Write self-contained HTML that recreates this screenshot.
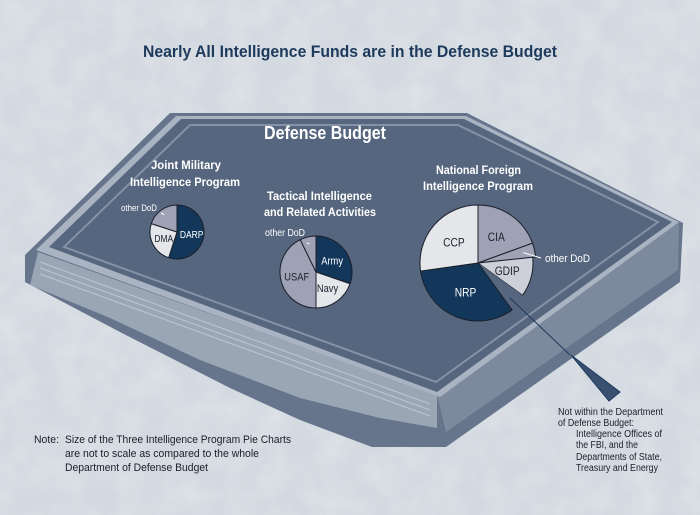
<!DOCTYPE html>
<html><head><meta charset="utf-8"><style>
html,body{margin:0;padding:0;background:#c9d0d8;}
svg{display:block;}
.t{font-family:"Liberation Sans",sans-serif;font-weight:bold;}
.n{font-family:"Liberation Sans",sans-serif;}
</style></head><body>
<svg id="chart" width="700" height="515" viewBox="0 0 700 515" xmlns="http://www.w3.org/2000/svg">
<defs>
<filter id="tex" x="0" y="0" width="100%" height="100%"><feTurbulence type="fractalNoise" baseFrequency="0.035" numOctaves="3" seed="4"/><feColorMatrix type="matrix" values="0 0 0 0 0.78  0 0 0 0 0.81  0 0 0 0 0.85  0 0 0 -1.1 0.75"/></filter>
</defs>
<rect x="0" y="0" width="700" height="515" fill="#d3d9e0"/>
<rect x="0" y="0" width="700" height="515" filter="url(#tex)" opacity="0.9"/>
<text x="143" y="57" textLength="414" lengthAdjust="spacingAndGlyphs" class="t" font-size="17" fill="#1d3a5c">Nearly All Intelligence Funds are in the Defense Budget</text>

<g>
<polygon points="170,113 467,113 683,223 680,282 446,447 372,447 300,420 230,388 120,332 25,282 25,255" fill="#66758c"/>
<polygon points="38,252 437,395 437,428 380,418 300,398 200,360 110,318 30,285" fill="#9ba6b5"/>
<g stroke="#d9dee5" stroke-width="1" opacity="0.55">
<line x1="40" y1="262" x2="430" y2="404"/><line x1="40" y1="268" x2="430" y2="410"/><line x1="40" y1="274" x2="430" y2="416"/>
</g>
<polygon points="437,395 679,222 678,270 446,432" fill="#7d8a9e"/>
<polygon points="176,116 466,116 679,222 440,397 36,250" fill="#a9b3c1"/>
<polygon points="181,119 464,119 672,222 437,392 49,247" fill="#56667e"/>
<polygon points="190,125 458,125 658,222 436,382 64,247" fill="none" stroke="#8592a6" stroke-width="2"/>
</g>
<text x="264" y="139" textLength="122" lengthAdjust="spacingAndGlyphs" class="t" font-size="18" fill="#ffffff">Defense Budget</text>

<g class="t" font-size="12" fill="#ffffff">
<text x="151" y="169" textLength="70" lengthAdjust="spacingAndGlyphs">Joint Military</text>
<text x="130" y="186" textLength="110" lengthAdjust="spacingAndGlyphs">Intelligence Program</text>
<text x="267" y="200" textLength="105" lengthAdjust="spacingAndGlyphs">Tactical Intelligence</text>
<text x="264" y="216" textLength="112" lengthAdjust="spacingAndGlyphs">and Related Activities</text>
<text x="436" y="174" textLength="85" lengthAdjust="spacingAndGlyphs">National Foreign</text>
<text x="423" y="190" textLength="110" lengthAdjust="spacingAndGlyphs">Intelligence Program</text>
</g>

<g id="pies"></g>

<g>
<line x1="510" y1="298" x2="570" y2="355" stroke="#1d3a5c" stroke-width="1"/>
<polygon points="571,355 620,392 609,401" fill="#3a5070" stroke="#1d3a5c" stroke-width="1"/>
</g>
<g class="n" font-size="10" fill="#1a1f2a">
<text x="558" y="415" textLength="105" lengthAdjust="spacingAndGlyphs">Not within the Department</text>
<text x="558" y="426" textLength="76" lengthAdjust="spacingAndGlyphs">of Defense Budget:</text>
<text x="576" y="437" textLength="86" lengthAdjust="spacingAndGlyphs">Intelligence Offices of</text>
<text x="576" y="448" textLength="62" lengthAdjust="spacingAndGlyphs">the FBI, and the</text>
<text x="576" y="460" textLength="86" lengthAdjust="spacingAndGlyphs">Departments of State,</text>
<text x="576" y="471" textLength="82" lengthAdjust="spacingAndGlyphs">Treasury and Energy</text>
</g>
<g class="n" font-size="11" fill="#1a1f2a">
<text x="34" y="443" textLength="25" lengthAdjust="spacingAndGlyphs">Note:</text>
<text x="65" y="443" textLength="226" lengthAdjust="spacingAndGlyphs">Size of the Three Intelligence Program Pie Charts</text>
<text x="65" y="457" textLength="194" lengthAdjust="spacingAndGlyphs">are not to scale as compared to the whole</text>
<text x="65" y="471" textLength="143" lengthAdjust="spacingAndGlyphs">Department of Defense Budget</text>
</g>
</svg>
<script>
// Pie data (degrees of 360 per slice, clockwise from top)
const jmipLabels = ["DARP","DMA","other DoD"];
const jmipValues = [198, 90, 72];
const tiaraLabels = ["Army","Navy","USAF","other DoD"];
const tiaraValues = [109, 71, 154, 26];
const nfipLabels = ["CIA","other DoD","GDIP","Not in DoD","NRP","CCP"];
const nfipValues = [70, 14, 42, 18, 118, 98];

const colors = {"DARP":"#12375a","DMA":"#e4e6ea","other DoD":"#9fa2b4","Army":"#12375a","Navy":"#e4e6ea","USAF":"#9fa2b4","CIA":"#9fa2b4","GDIP":"#cdd0d8","Not in DoD":"#56667e","NRP":"#12375a","CCP":"#e4e6ea"};
const textCol = {"DARP":"#fff","Army":"#fff","NRP":"#fff"};
const NS="http://www.w3.org/2000/svg";
const root=document.getElementById('pies');

function pt(cx,cy,r,a){const t=(a-90)*Math.PI/180;return [cx+r*Math.cos(t),cy+r*Math.sin(t)];}
function drawPie(name,labels,values,cx,cy,r,fs,opts){
  const total=values.reduce((a,b)=>a+b,0);
  let a0=0;
  const g=document.createElementNS(NS,'g');
  
  
  root.appendChild(g);
  labels.forEach((lab,i)=>{
    const span=values[i]/total*360, a1=a0+span;
    const rr=(opts.radii&&opts.radii[lab])||r;
    const p0=pt(cx,cy,rr,a0), p1=pt(cx,cy,rr,a1);
    const path=document.createElementNS(NS,'path');
    path.setAttribute('d',`M${cx},${cy} L${p0[0]},${p0[1]} A${rr},${rr} 0 ${span>180?1:0} 1 ${p1[0]},${p1[1]} Z`);
    path.setAttribute('fill',colors[lab]);
    path.setAttribute('stroke',lab==="Not in DoD"?"none":"#1a1f2a");
    path.setAttribute('stroke-width','1');
    
    
    g.appendChild(path);
    const mid=(a0+a1)/2;
    if(!(opts.skip||[]).includes(lab)){
      const lp=pt(cx,cy,rr*0.55,mid);
      const t=document.createElementNS(NS,'text');
      t.setAttribute('x',lp[0]);t.setAttribute('y',lp[1]+fs*0.35);
      t.setAttribute('text-anchor','middle');t.setAttribute('class','n');
      t.setAttribute('font-size',fs);t.setAttribute('fill',textCol[lab]||'#1a1f2a');
      t.setAttribute('transform',`translate(${lp[0]},0) scale(0.85,1) translate(${-lp[0]},0)`);
      
      
      t.textContent=lab;g.appendChild(t);
    }
    if(opts.ext&&opts.ext[lab]){
      const e=opts.ext[lab];const ip=pt(cx,cy,rr*0.8,mid);
      const ln=document.createElementNS(NS,'line');
      ln.setAttribute('x1',ip[0]);ln.setAttribute('y1',ip[1]);ln.setAttribute('x2',e[0]);ln.setAttribute('y2',e[1]);
      ln.setAttribute('stroke','#fff');ln.setAttribute('stroke-width','1');g.appendChild(ln);
      const t=document.createElementNS(NS,'text');
      t.setAttribute('x',e[2]);t.setAttribute('y',e[3]);t.setAttribute('text-anchor',e[4]);
      t.setAttribute('class','n');t.setAttribute('font-size',e[5]);t.setAttribute('fill','#fff');
      t.setAttribute('textLength',e[6]);t.setAttribute('lengthAdjust','spacingAndGlyphs');
      
      
      t.textContent=lab;g.appendChild(t);
    }
    a0=a1;
  });
}
drawPie('jmip',jmipLabels,jmipValues,177,232,27,10,{skip:["other DoD"],ext:{"other DoD":[161,213,121,211,"start",9,36]}});
drawPie('tiara',tiaraLabels,tiaraValues,316,272,36,11,{skip:["other DoD"],ext:{"other DoD":[307,243,265,236,"start",10,40]}});
drawPie('nfip',nfipLabels,nfipValues,478,263,58,12,{skip:["other DoD","Not in DoD"],radii:{"GDIP":55},ext:{"other DoD":[541,258,545,262,"start",11,45]}});
</script>
</body></html>
